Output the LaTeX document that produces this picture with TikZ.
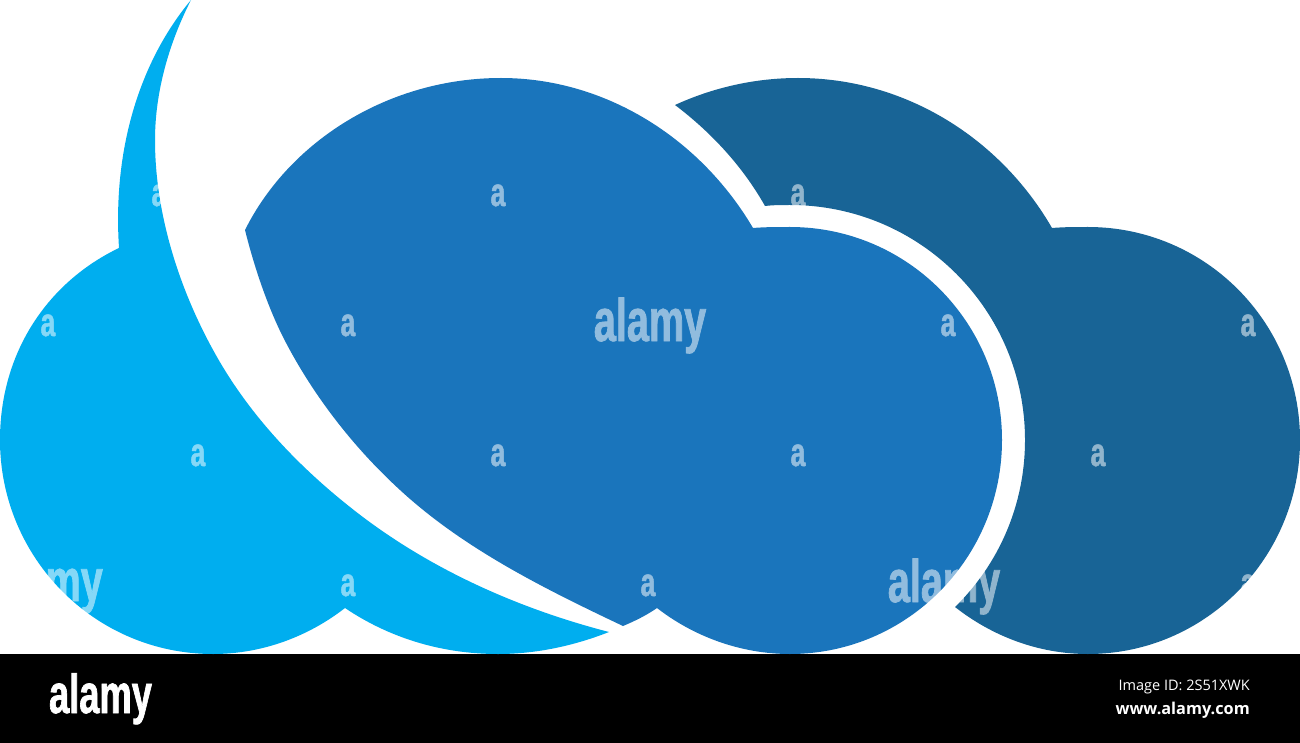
\documentclass[tikz,border=0pt]{standalone}
\usepackage{fontspec}
\setmainfont{Open Sans}
\newfontfamily\logofont[FakeStretch=0.66, FakeBold=1.2, UprightFont=* Bold]{Liberation Sans}
\definecolor{skyblue}{HTML}{00AEEF}
\definecolor{midblue}{HTML}{1A75BC}
\definecolor{darkblue}{HTML}{186496}
\tikzset{
    wmark/.style={text=white, inner sep=0pt, anchor=base, font=\logofont\fontsize{40pt}{40pt}\selectfont},
    wmarkbig/.style={wmark, font=\logofont\fontsize{60pt}{60pt}\selectfont}
}
\begin{document}
\begin{tikzpicture}[x=1pt, y=-1pt]
    \useasboundingbox (0,0) rectangle (1300,743);
    \fill[white] (0,0) rectangle (1300,743);
    \fill[black] (0,654) rectangle (1300,743);

    % left cloud
    \fill[skyblue] (119,248)
        .. controls (48,282) and (0,352) .. (0,440)
        .. controls (0,558) and (95,654) .. (213,654)
        .. controls (263,654) and (309,636) .. (345,608)
        .. controls (388,637) and (440,654) .. (498,654)
        .. controls (538,654) and (576,645) .. (609,632)
        .. controls (516,608) and (425,567) .. (350,507)
        .. controls (297,465) and (250,415) .. (217,357)
        .. controls (180,292) and (155,215) .. (155,140)
        .. controls (155,92) and (169,43) .. (191,0)
        .. controls (145,55) and (112,140) .. (119,248) -- cycle;

    % middle cloud
    \fill[midblue] (245,230) .. controls (290,140) and (390,78) .. (501,78)
        .. controls (605,78) and (700,138) .. (753,228)
        .. controls (765,227) and (778,227) .. (790,227)
        .. controls (907,227) and (1002,322) .. (1002,440)
        .. controls (1002,558) and (907,654) .. (790,654)
        .. controls (740,654) and (693,636) .. (657,608)
        .. controls (647,615) and (635,621) .. (623,626)
        .. controls (545,589) and (464,549) .. (400,490)
        .. controls (353,447) and (312,394) .. (283,337)
        .. controls (267,305) and (254,266) .. (245,230) -- cycle;

    % right cloud
    \fill[darkblue] (675,105) .. controls (712,88) and (754,78) .. (798,78)
        .. controls (905,78) and (1000,138) .. (1052,228)
        .. controls (1064,227) and (1076,227) .. (1088,227)
        .. controls (1205,227) and (1300,322) .. (1300,440)
        .. controls (1300,558) and (1205,654) .. (1088,654)
        .. controls (1038,654) and (992,636) .. (955,607)
        .. controls (998,565) and (1025,506) .. (1025,440)
        .. controls (1025,310) and (920,205) .. (790,205)
        .. controls (782,205) and (773,205) .. (765,206)
        .. controls (743,167) and (712,133) .. (675,105) -- cycle;

    % watermark
    \begin{scope}[transparency group, opacity=0.52]
        \foreach \px/\py in {498/206, 159/206, 798/206, 48/336, 348/336, 948/336, 1248/336,
                198/466, 498/466, 798/466, 1098/466, 348/596, 648/596, 1248/596}
            \node[wmark] at (\px,\py) {a};
        \node[wmarkbig] at (650,341) {alamy};
        \node[wmarkbig, anchor=base east] at (103,601) {my};
        \node[wmarkbig] at (944,602) {alamy};
    \end{scope}

    % bottom bar
    \node[text=white, inner sep=0pt, anchor=base, font=\logofont\fontsize{55pt}{55pt}\selectfont] (logo) at (100.5,713) {alamy};
    \node[text=white, inner sep=0pt, anchor=base east, font=\fontsize{14.5pt}{14.5pt}\selectfont] (code) at (1250,690) {Image ID: 2S51XWK};
    \node[text=white, inner sep=0pt, anchor=base east, font=\bfseries\fontsize{16.3pt}{16.3pt}\selectfont] (site) at (1250,714) {www.alamy.com};
\end{tikzpicture}
\end{document}
